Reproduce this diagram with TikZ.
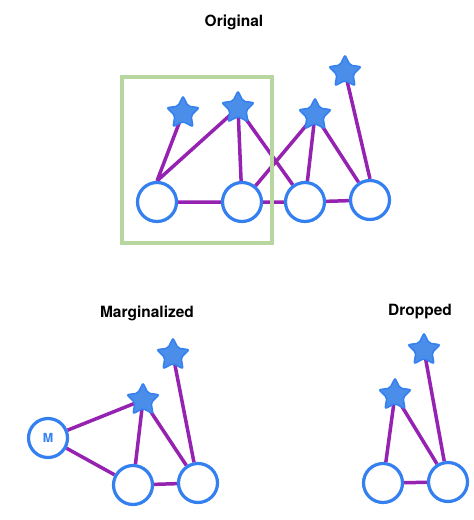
\documentclass[tikz,border=0pt]{standalone}
\usepackage{fontspec}
\setmainfont{TeX Gyre Heros}
\usetikzlibrary{shapes.geometric, backgrounds}

\definecolor{varblue}{RGB}{52,128,240}
\definecolor{starblue}{RGB}{74,142,234}
\definecolor{linkpurple}{RGB}{150,34,178}
\definecolor{boxgreen}{RGB}{183,214,160}

\begin{document}
\begin{tikzpicture}[x=1pt, y=-1pt,
    obs/.style={circle, draw=varblue, line width=3.2pt, fill=white, minimum size=39pt, inner sep=0pt},
    fstar/.style={star, star points=5, star point ratio=2.0, fill=starblue, draw=varblue, line width=1.5pt, rounded corners=2pt, minimum size=34pt, inner sep=0pt},
    link/.style={draw=linkpurple, line width=3.5pt},
    title/.style={font=\fontsize{15.5}{18}\selectfont\bfseries}]
    \useasboundingbox (0,0) rectangle (474,520);

    % Original
    \node[title] (torig) at (234,22) {Original};
    \draw[boxgreen, line width=3.5pt] (122,77) rectangle (272,243);
    \node[obs] (c1) at (157,202) {};
    \node[obs] (c2) at (242,202) {};
    \node[obs] (c3) at (305,202) {};
    \node[obs] (c4) at (370,200) {};
    \node[fstar] (s1) at (183,113) {};
    \node[fstar] (s2) at (238,108) {};
    \node[fstar] (s3) at (315,115) {};
    \node[fstar] (s4) at (345,72) {};
    \begin{pgfonlayer}{background}
        \path[link] (s1.center) -- (c1.north) (s2.center) -- (c1.north)
            (s2.center) -- (c2) (s2.center) -- (c3)
            (s3.center) -- (c2) (s3.center) -- (c3) (s3.center) -- (c4)
            (s4.center) -- (c4.north)
            (c1) -- (c2) (c2) -- (c3) (c3) -- (c4);
    \end{pgfonlayer}

    % Marginalized
    \node[title] (tmarg) at (147,313) {Marginalized};
    \node[obs, text=varblue, font=\fontsize{12.5}{14}\selectfont\bfseries] (m) at (48,438) {M};
    \node[obs] (b1) at (133,485) {};
    \node[obs] (b2) at (198,483) {};
    \node[fstar] (ms1) at (143,400) {};
    \node[fstar] (ms2) at (173,355) {};
    \begin{pgfonlayer}{background}
        \path[link] (m) -- (ms1.center) (m) -- (b1)
            (ms1.center) -- (b1) (ms1.center) -- (b2)
            (ms2.center) -- (b2) (b1) -- (b2);
    \end{pgfonlayer}

    % Dropped
    \node[title] (tdrop) at (420,312) {Dropped};
    \node[obs] (d1) at (383,483) {};
    \node[obs] (d2) at (448,482) {};
    \node[fstar] (ds1) at (395,395) {};
    \node[fstar] (ds2) at (424,350) {};
    \begin{pgfonlayer}{background}
        \path[link] (ds1.center) -- (d1) (ds1.center) -- (d2)
            (ds2.center) -- (d2) (d1) -- (d2);
    \end{pgfonlayer}
\end{tikzpicture}
\end{document}
